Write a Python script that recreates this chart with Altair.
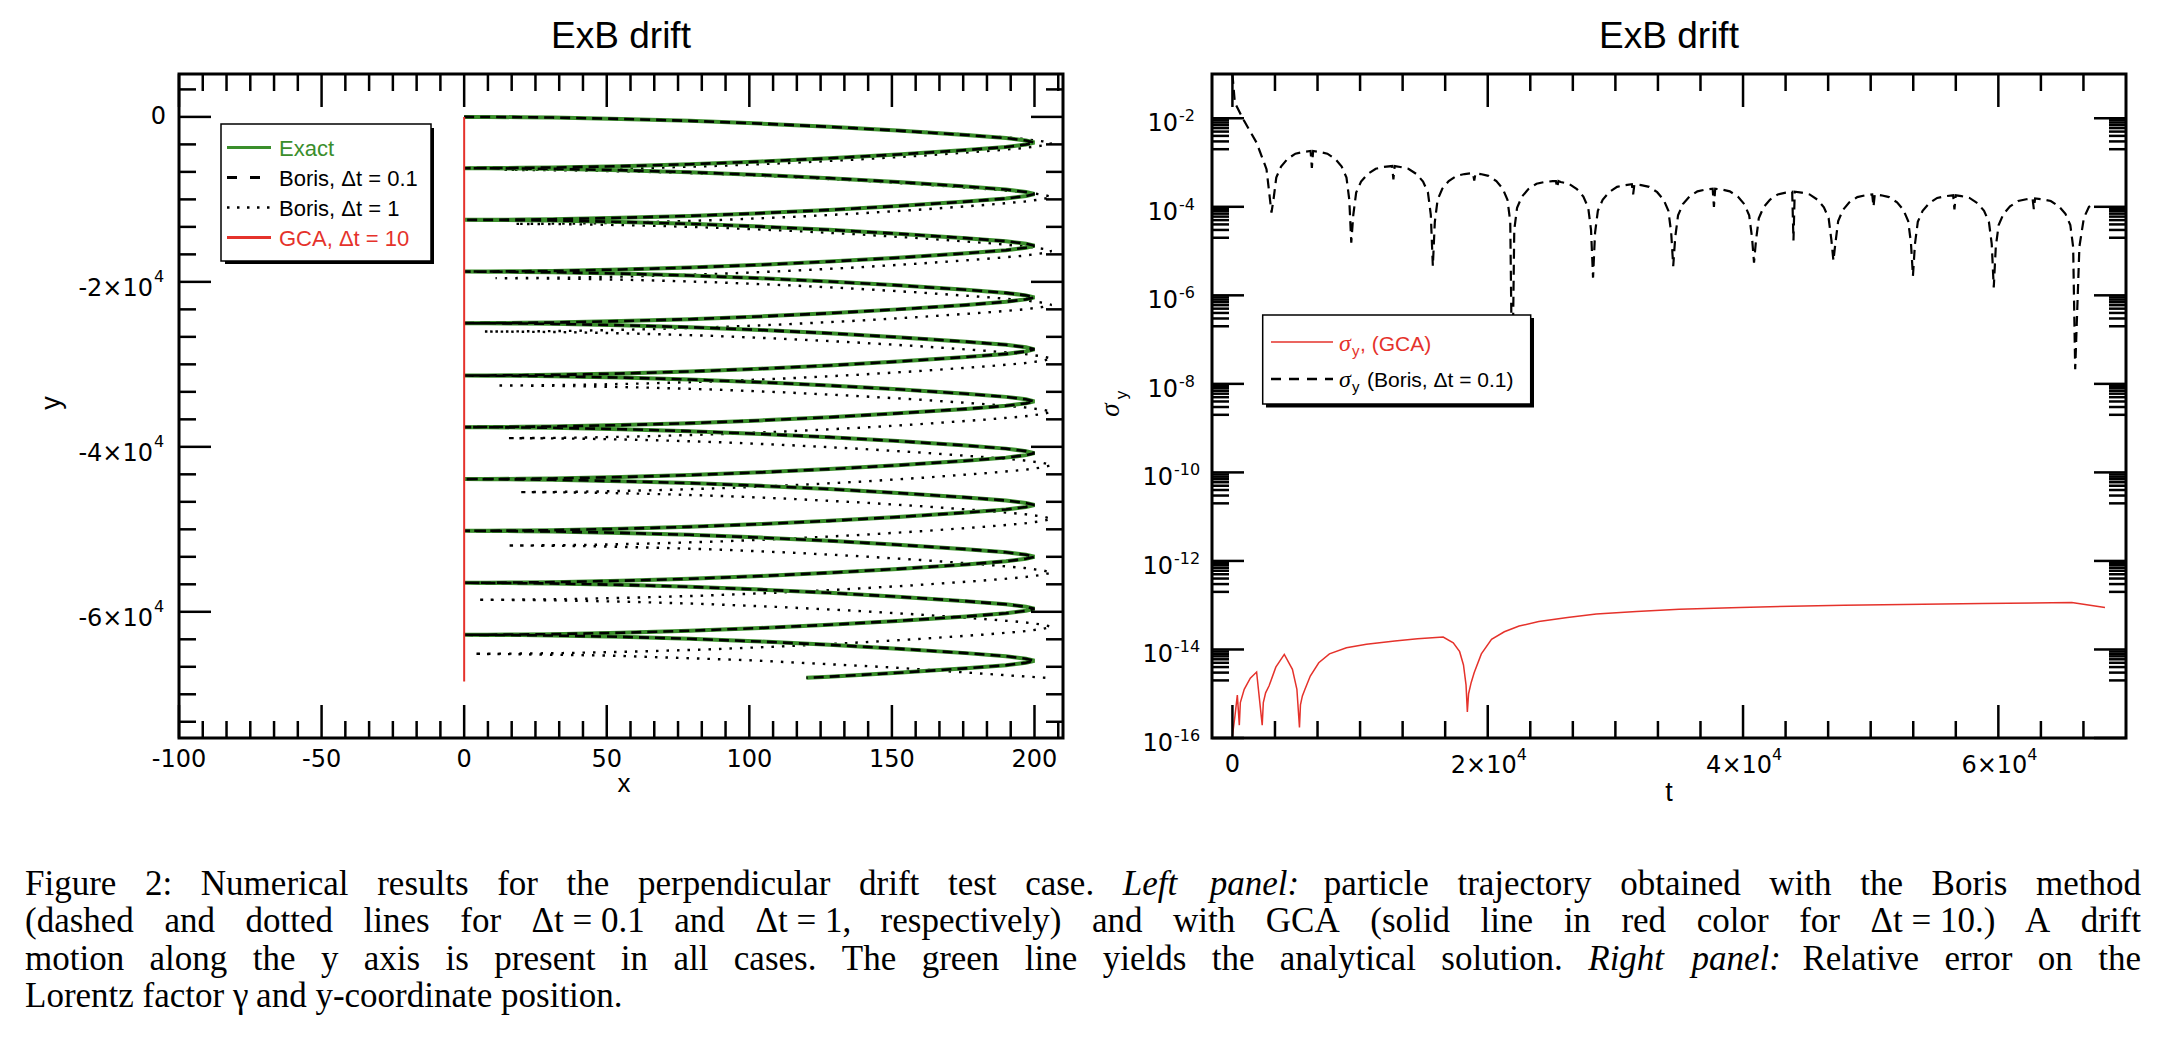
import math
import altair as alt
import pandas as pd

W, H = 2168, 1054
LX0, LX1 = 179, 1063          # left frame, pixels
RX0, RX1 = 1212, 2126         # right frame, pixels
TOP, BOT = 74, 738

GREEN = "#3a8e2b"
RED = "#e5322b"
SANS = "Liberation Sans"
TICK_FONT = "DejaVu Sans"
SERIF = "Liberation Serif"

# ---------------- left panel: particle trajectory in the x-y plane ----------------
GYRO_PERIOD = 6290  # y advance of one gyration of the exact orbit
period_x = [0, 8, 20, 31, 55, 79, 104, 128, 152, 176, 190, 197, 200,
            197, 190, 176, 152, 128, 104, 79, 55, 31, 20, 8]
period_dy = [0, -10, -40, -81, -250, -485, -820, -1212, -1680, -2222, -2600, -2900, -3145,
             -3390, -3690, -4068, -4610, -5078, -5470, -5805, -6040, -6209, -6250, -6280]

exact_cusp_y = [0, -6218, -12485, -18752, -25006, -31358, -37612, -43915,
                -50182, -56485, -62788]
exact_end = (120, -68000)

boris1_left_x = [0, 14, 17.6, 11, 6.8, 11, 14.7, 18.9, 14.7, 4.3, 3.1]
boris1_left_y = [0, -6424, -12970, -19551, -26024, -32569, -38945, -45490,
                 -51963, -58544, -65090]
boris1_right_x = 206
boris1_tail_x = [3.1, 20, 50, 100, 150, 190, 204]
boris1_tail_dy = [0, -60, -210, -780, -1650, -2600, -2910]

gca_x = [0, 0]
gca_y = [0, -68450]

# ---------------- right panel: relative error sigma_y vs t ----------------
gca_t = [0, 200, 384, 540, 620, 924, 1400, 1894, 2333, 2420, 2600, 2873, 3400, 4063,
         4700, 5050, 5252, 5330, 5480, 5683, 6100, 6763, 7600, 8931, 10500, 12720, 14500,
         16509, 17300, 17800, 18100, 18300, 18403, 18500, 18700, 18943, 19500, 20297,
         21300, 22458, 24000, 26247, 28500, 31656, 35000, 39781, 47898, 58724, 65753, 68352]
gca_log10 = [-15.95, -15.5, -15.03, -15.71, -15.2, -14.9, -14.65, -14.51, -15.71, -15.2,
             -14.98, -14.82, -14.4, -14.11, -14.45, -14.9, -15.76, -15.25, -15.05, -14.9,
             -14.6, -14.3, -14.1, -13.96, -13.88, -13.81, -13.76, -13.72, -13.85, -14.05,
             -14.35, -14.8, -15.41, -15.0, -14.75, -14.52, -14.1, -13.77, -13.6, -13.47,
             -13.37, -13.28, -13.2, -13.14, -13.09, -13.05, -13.0, -12.96, -12.94, -13.05]

boris_head_t = [0, 190, 840, 1890, 2670]
boris_head_log10 = [-1.0, -1.65, -2.02, -2.55, -3.15]
boris_dip_t = [3060, 9310, 15700, 21920, 28250, 34530, 40860, 47080, 53310, 59640, 66020]
boris_dip_log10 = [-4.13, -4.81, -5.34, -8.2, -5.60, -5.34, -5.26, -5.22, -5.56, -5.82, -7.67]
boris_peak_log10 = [-2.74, -3.08, -3.24, -3.42, -3.49, -3.59, -3.66, -3.72, -3.74, -3.81]
boris_notch_t = [6223, 12610, 18943, 25440, 31390, 37720, 43950, 50220, 56560, 62780]
boris_notch_depth = [0.38, 0.30, 0.17, 0.15, 0.23, 0.41, 1.1, 0.28, 0.32, 0.24]
arch_u = [0.025, 0.06, 0.12, 0.2, 0.3, 0.4, 0.5, 0.6, 0.7, 0.8, 0.88, 0.94, 0.975]
arch_drop = [-1.1, -0.6, -0.35, -0.18, -0.06, -0.02, 0.0, -0.02, -0.06, -0.18, -0.35, -0.6, -1.1]
boris_tail_t = [66350, 66700, 67100, 67500]
boris_tail_log10 = [-4.9, -4.25, -4.0, -3.93]

# ---------------- tick labels ----------------
left_x_major = [-100, -50, 0, 50, 100, 150, 200]
left_x_labels = ["-100", "-50", "0", "50", "100", "150", "200"]
left_y_major = [0, -20000, -40000, -60000]
left_y_base = ["0", "-2×10", "-4×10", "-6×10"]
left_y_sup = ["", "4", "4", "4"]
right_x_major = [0, 20000, 40000, 60000]
right_x_base = ["0", "2×10", "4×10", "6×10"]
right_x_sup = ["", "4", "4", "4"]
right_y_exp = [-2, -4, -6, -8, -10, -12, -14, -16]

caption_lines = [
    "Figure 2: Numerical results for the perpendicular drift test case. *Left *panel: "
    "particle trajectory obtained with the Boris method",
    "(dashed and dotted lines for Δt\u00a0=\u00a00.1 and Δt\u00a0=\u00a01, respectively) and with GCA "
    "(solid line in red color for Δt\u00a0=\u00a010.) A drift",
    "motion along the y axis is present in all cases. The green line yields the analytical "
    "solution. *Right *panel: Relative error on the",
    "Lorentz factor γ and y-coordinate position.",
]
caption_baselines = [895, 932, 970, 1007]

# ---------------- scales ----------------
lx = alt.Scale(domain=[-100, 210], range=[LX0, LX1], nice=False, zero=False)
ly = alt.Scale(domain=[-75300, 5200], range=[BOT, TOP], nice=False, zero=False)
rx = alt.Scale(domain=[-1600, 70000], range=[RX0, RX1], nice=False, zero=False)
ry = alt.Scale(type="log", domain=[1e-16, 1e-1], range=[BOT, TOP], nice=False)

ONE = pd.DataFrame({"d": [0]})

# ---------------- build trajectories ----------------
ex, ey = [], []
for k in range(len(exact_cusp_y) - 1):
    c0, c1 = exact_cusp_y[k], exact_cusp_y[k + 1]
    s = (c0 - c1) / GYRO_PERIOD
    for x, dy in zip(period_x, period_dy):
        ex.append(x)
        ey.append(c0 + dy * s)
for x, dy in zip(period_x[:18], period_dy[:18]):
    ex.append(x)
    ey.append(exact_cusp_y[-1] + dy)
ex.append(exact_end[0])
ey.append(exact_end[1])
exact_df = pd.DataFrame({"i": range(len(ex)), "x": ex, "y": ey})

bx, by = [], []
for k in range(len(boris1_left_x) - 1):
    xa, xb = boris1_left_x[k], boris1_left_x[k + 1]
    ya, yb = boris1_left_y[k], boris1_left_y[k + 1]
    s = (ya - yb) / GYRO_PERIOD
    for j, (x, dy) in enumerate(zip(period_x, period_dy)):
        xl = xa if j <= 12 else xb
        bx.append(xl + x * (boris1_right_x - xl) / 200)
        by.append(ya + dy * s)
for x, dy in zip(boris1_tail_x, boris1_tail_dy):
    bx.append(x)
    by.append(boris1_left_y[-1] + dy)
boris1_df = pd.DataFrame({"i": range(len(bx)), "x": bx, "y": by})

gca_left_df = pd.DataFrame({"i": [0, 1], "x": gca_x, "y": gca_y})

# sigma_y of the Boris run: arches between successive dips
pts = list(zip(boris_head_t, boris_head_log10))
for i, (td, ld) in enumerate(zip(boris_dip_t, boris_dip_log10)):
    pts.append((td, ld))
    if i < len(boris_peak_log10):
        t0, t1 = td, boris_dip_t[i + 1]
        pk = boris_peak_log10[i]
        for u, d in zip(arch_u, arch_drop):
            pts.append((t0 + u * (t1 - t0), pk + d))
        tn = boris_notch_t[i]
        pts = [p for p in pts if not (tn - 110 < p[0] < tn + 110)]
        pts += [(tn - 100, pk), (tn, pk - boris_notch_depth[i]), (tn + 100, pk)]
pts += list(zip(boris_tail_t, boris_tail_log10))
pts.sort()
boris_sig_df = pd.DataFrame({"i": range(len(pts)), "t": [p[0] for p in pts],
                             "v": [10 ** p[1] for p in pts]})
gca_sig_df = pd.DataFrame({"i": range(len(gca_t)), "t": gca_t, "v": [10 ** l for l in gca_log10]})


def line(df, xs, ys, xf, yf, **kw):
    return alt.Chart(df).mark_line(**kw).encode(
        x=alt.X(f"{xf}:Q", scale=xs, axis=None),
        y=alt.Y(f"{yf}:Q", scale=ys, axis=None),
        order="i:Q",
    )


layers = []
# left panel curves
layers.append(line(boris1_df, lx, ly, "x", "y", color="black", strokeWidth=2.4,
                   strokeDash=[2.5, 8], strokeCap="butt"))
layers.append(line(exact_df, lx, ly, "x", "y", color=GREEN, strokeWidth=4))
layers.append(line(exact_df, lx, ly, "x", "y", color="black", strokeWidth=2.6,
                   strokeDash=[10, 6]))
layers.append(line(gca_left_df, lx, ly, "x", "y", color=RED, strokeWidth=2))
# right panel curves
layers.append(line(boris_sig_df, rx, ry, "t", "v", color="black", strokeWidth=2.2,
                   strokeDash=[10, 6]))
layers.append(line(gca_sig_df, rx, ry, "t", "v", color=RED, strokeWidth=1.5))


# ---------------- ticks ----------------
def minor_vals(lo, hi, step, majors):
    out = []
    for n in range(math.ceil(lo / step), math.floor(hi / step) + 1):
        v = n * step
        if lo < v < hi and all(abs(v - m) > 1e-6 * step for m in majors):
            out.append(v)
    return out


def hticks(vals, scale, length):
    df = pd.DataFrame({"v": vals})
    base = alt.Chart(df).mark_rule(color="black", strokeWidth=2.5)
    xe = alt.X("v:Q", scale=scale, axis=None)
    return [base.encode(x=xe, y=alt.value(BOT), y2=alt.value(BOT - length)),
            base.encode(x=xe, y=alt.value(TOP), y2=alt.value(TOP + length))]


def vticks(vals, scale, x0, x1, length):
    df = pd.DataFrame({"v": vals})
    base = alt.Chart(df).mark_rule(color="black", strokeWidth=2.5)
    ye = alt.Y("v:Q", scale=scale, axis=None)
    return [base.encode(y=ye, x=alt.value(x0), x2=alt.value(x0 + length)),
            base.encode(y=ye, x=alt.value(x1), x2=alt.value(x1 - length))]


layers += hticks(left_x_major, lx, 33)
layers += hticks(minor_vals(-100, 210, 50 / 6, left_x_major), lx, 17)
layers += vticks(left_y_major, ly, LX0, LX1, 32)
layers += vticks(minor_vals(-75300, 5200, 20000 / 6, left_y_major), ly, LX0, LX1, 17)
layers += hticks(right_x_major, rx, 33)
layers += hticks(minor_vals(-1600, 70000, 20000 / 6, right_x_major), rx, 17)
right_y_major = [10.0 ** e for e in right_y_exp]
right_y_minor = [k * 10.0 ** (e - 1) for e in right_y_exp for k in range(2, 10)
                 if k * 10.0 ** (e - 1) > 1e-16]
layers += vticks(right_y_major, ry, RX0, RX1, 32)
layers += vticks(right_y_minor, ry, RX0, RX1, 17)

# ---------------- frames ----------------
for x0, x1 in [(LX0, LX1), (RX0, RX1)]:
    layers.append(alt.Chart(ONE).mark_rect(filled=False, stroke="black", strokeWidth=3).encode(
        x=alt.value(x0), x2=alt.value(x1), y=alt.value(TOP), y2=alt.value(BOT)))

# ---------------- tick labels ----------------
tick_txt = dict(font=TICK_FONT, color="black")
lxl = pd.DataFrame({"v": left_x_major, "lab": left_x_labels})
layers.append(alt.Chart(lxl).mark_text(fontSize=24, align="center", baseline="alphabetic",
                                       **tick_txt).encode(
    x=alt.X("v:Q", scale=lx, axis=None), y=alt.value(767), text="lab:N"))

lyl = pd.DataFrame({"v": left_y_major, "base": left_y_base, "sup": left_y_sup})
layers.append(alt.Chart(lyl[lyl.sup == ""]).mark_text(fontSize=24, align="right", baseline="middle",
                                                      **tick_txt).encode(
    y=alt.Y("v:Q", scale=ly, axis=None), x=alt.value(166), text="base:N"))
layers.append(alt.Chart(lyl[lyl.sup != ""]).mark_text(fontSize=24, align="right", baseline="alphabetic",
                                                      dy=14, **tick_txt).encode(
    y=alt.Y("v:Q", scale=ly, axis=None), x=alt.value(153), text="base:N"))
layers.append(alt.Chart(lyl[lyl.sup != ""]).mark_text(fontSize=16, align="left", baseline="alphabetic",
                                                      dy=0, **tick_txt).encode(
    y=alt.Y("v:Q", scale=ly, axis=None), x=alt.value(154), text="sup:N"))

rxl = pd.DataFrame({"v": right_x_major, "base": right_x_base, "sup": right_x_sup})
layers.append(alt.Chart(rxl[rxl.sup == ""]).mark_text(fontSize=24, align="center", baseline="alphabetic",
                                                      **tick_txt).encode(
    x=alt.X("v:Q", scale=rx, axis=None), y=alt.value(772), text="base:N"))
layers.append(alt.Chart(rxl[rxl.sup != ""]).mark_text(fontSize=24, align="right", baseline="alphabetic",
                                                      dx=29, **tick_txt).encode(
    x=alt.X("v:Q", scale=rx, axis=None), y=alt.value(773), text="base:N"))
layers.append(alt.Chart(rxl[rxl.sup != ""]).mark_text(fontSize=16, align="left", baseline="alphabetic",
                                                      dx=29, **tick_txt).encode(
    x=alt.X("v:Q", scale=rx, axis=None), y=alt.value(760), text="sup:N"))

ryl = pd.DataFrame({"v": right_y_major,
                    "sup": [f"-{-e}" for e in right_y_exp],
                    "bx": [1178 if e > -10 else 1173 for e in right_y_exp]})
ryl["base"] = "10"
layers.append(alt.Chart(ryl).mark_text(fontSize=24, align="right", baseline="alphabetic",
                                       dy=13, **tick_txt).encode(
    y=alt.Y("v:Q", scale=ry, axis=None), x=alt.X("bx:Q", scale=None, axis=None), text="base:N"))
layers.append(alt.Chart(ryl).mark_text(fontSize=16, align="left", baseline="alphabetic",
                                       dy=3, dx=1, **tick_txt).encode(
    y=alt.Y("v:Q", scale=ry, axis=None), x=alt.X("bx:Q", scale=None, axis=None), text="sup:N"))

# ---------------- titles ----------------
def label(txt, x, y, size, font=SANS, color="black", **kw):
    return alt.Chart(ONE).mark_text(text=txt, font=font, fontSize=size, color=color, **kw).encode(
        x=alt.value(x), y=alt.value(y))


layers.append(label("ExB drift", (LX0 + LX1) / 2, 48, 37, align="center", baseline="alphabetic"))
layers.append(label("ExB drift", (RX0 + RX1) / 2, 48, 37, align="center", baseline="alphabetic"))
layers.append(label("x", 624, 792, 26, align="center", baseline="alphabetic"))
layers.append(label("t", 1669, 801, 27, align="center", baseline="alphabetic"))
layers.append(label("y", 52, 403, 27, align="center", baseline="middle", angle=270))
layers.append(label("σ", 1111, 410, 27, font=SERIF, fontStyle="italic", align="center",
                    baseline="middle", angle=270))
layers.append(label("y", 1122, 395, 17, align="center", baseline="middle", angle=270))

# ---------------- legends ----------------
def box(x0, y0, x1, y1, fill, stroke=None, sw=0):
    kw = dict(fill=fill)
    if stroke:
        kw.update(stroke=stroke, strokeWidth=sw)
    return alt.Chart(ONE).mark_rect(**kw).encode(
        x=alt.value(x0), x2=alt.value(x1), y=alt.value(y0), y2=alt.value(y1))


def seg(x0, x1, y, color, width, dash=None):
    kw = dict(color=color, strokeWidth=width)
    if dash:
        kw.update(strokeDash=dash, strokeCap="butt")
    return alt.Chart(ONE).mark_rule(**kw).encode(
        x=alt.value(x0), x2=alt.value(x1), y=alt.value(y))


# left legend
layers.append(box(225, 128, 434, 264, "black"))
layers.append(box(221, 124, 431, 261, "white", "black", 1.5))
legend_left = [("Exact", GREEN, None, GREEN),
               ("Boris, Δt = 0.1", "black", [10, 13], "black"),
               ("Boris, Δt = 1", "black", [2.5, 7.5], "black"),
               ("GCA, Δt = 10", RED, None, RED)]
for k, (txt, lc, dash, tc) in enumerate(legend_left):
    yc = 147.5 + 30 * k
    layers.append(seg(227, 271, yc, lc, 3 if dash is None or dash[0] > 3 else 2.5, dash))
    layers.append(label(txt, 279, yc + 8, 22, color=tc, align="left", baseline="alphabetic"))

# right legend
layers.append(box(1266, 318, 1534, 407.5, "black"))
layers.append(box(1262.7, 315, 1530.7, 404, "white", "black", 1.5))
layers.append(seg(1271, 1333, 342, RED, 1.5))
layers.append(seg(1271, 1333, 379, "black", 2.5, [10, 8]))
layers.append(label("σ", 1339, 351, 24, font=SERIF, fontStyle="italic", color=RED,
                    align="left", baseline="alphabetic"))
layers.append(label("y", 1352, 356, 15, color=RED, align="left", baseline="alphabetic"))
layers.append(label(", (GCA)", 1360, 351, 21, color=RED, align="left", baseline="alphabetic"))
layers.append(label("σ", 1339, 387, 24, font=SERIF, fontStyle="italic",
                    align="left", baseline="alphabetic"))
layers.append(label("y", 1352, 392, 15, align="left", baseline="alphabetic"))
layers.append(label("(Boris, Δt = 0.1)", 1367, 387, 21, align="left", baseline="alphabetic"))

# ---------------- caption (justified word by word) ----------------
CAP_SIZE = 35
CAP_LEFT, CAP_RIGHT = 25, 2141
_em = {" ": .25, "\u00a0": .25, "a": .444, "b": .5, "c": .444, "d": .5, "e": .444, "f": .333,
       "g": .5, "h": .5, "i": .278, "j": .278, "k": .5, "l": .278, "m": .778, "n": .5, "o": .5,
       "p": .5, "q": .5, "r": .333, "s": .389, "t": .278, "u": .5, "v": .5, "w": .722, "x": .5,
       "y": .5, "z": .444, "A": .722, "B": .667, "C": .667, "F": .556, "G": .722, "L": .611,
       "N": .722, "R": .667, "T": .611, ".": .25, ",": .25, ":": .278, "(": .333, ")": .333,
       "-": .333, "=": .564, "Δ": .612, "γ": .411}


def wlen(s):
    return sum(_em.get(ch, .5) for ch in s) * CAP_SIZE


words = []
for li, (ln, yb) in enumerate(zip(caption_lines, caption_baselines)):
    toks = ln.split(" ")
    clean = [t.lstrip("*") for t in toks]
    ital = [t.startswith("*") for t in toks]
    widths = [wlen(t) for t in clean]
    if li < len(caption_lines) - 1:
        gap = (CAP_RIGHT - CAP_LEFT - sum(widths)) / (len(toks) - 1)
    else:
        gap = _em[" "] * CAP_SIZE
    x = CAP_LEFT
    for t, it, w in zip(clean, ital, widths):
        words.append({"w": t, "px": x, "py": yb, "it": it})
        x += w + gap
words_df = pd.DataFrame(words)
for it, style in [(False, "normal"), (True, "italic")]:
    layers.append(alt.Chart(words_df[words_df.it == it]).mark_text(
        font=SERIF, fontSize=CAP_SIZE, fontStyle=style, color="black",
        align="left", baseline="alphabetic").encode(
        x=alt.X("px:Q", scale=None, axis=None),
        y=alt.Y("py:Q", scale=None, axis=None),
        text="w:N"))

chart = alt.layer(*layers).resolve_scale(x="independent", y="independent").properties(
    width=W, height=H, padding=0, autosize=alt.AutoSizeParams(type="none"),
    background="white",
).configure_view(stroke=None)

chart.save("out.html", embed_options={"renderer": "svg", "actions": False})
